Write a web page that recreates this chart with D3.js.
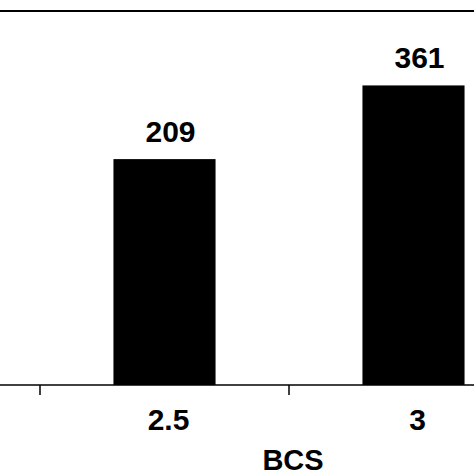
<!DOCTYPE html>
<html>
<head>
<meta charset="utf-8">
<script src="https://cdn.jsdelivr.net/npm/d3@7"></script>
<style>
  body { margin: 0; background: #fff; }
  text { font-family: "Liberation Sans", Arial, sans-serif; font-weight: bold; fill: #000; }
</style>
</head>
<body>
<div id="chart"></div>
<script>
// categories on the x axis (BCS), bar heights (% of axis) and the counts printed on top
var categories = ["2.5", "3"];
var barValues = [60.4, 80.1];
var counts = [209, 361];

var width = 474, height = 474;

var svg = d3.select("#chart")
  .append("svg")
  .attr("width", width)
  .attr("height", height);

var plotTop = 11, plotBottom = 385;

var x = d3.scaleBand()
    .domain(categories)
    .range([40, 538])
    .paddingInner(0)
    .paddingOuter(0);

var y = d3.scaleLinear()
    .domain([0, 100])
    .range([plotBottom, plotTop]);

var barW = x.bandwidth() * 0.41;

var data = categories.map(function(c, i) {
  return {cat: c, value: barValues[i], n: counts[i]};
});

// top frame line
svg.append("line")
    .attr("x1", 0).attr("x2", width)
    .attr("y1", plotTop).attr("y2", plotTop)
    .attr("stroke", "#000")
    .attr("stroke-width", 2.2);

svg.selectAll(".bar")
    .data(data)
  .enter().append("rect")
    .attr("class", "bar")
    .attr("x", function(d) { return x(d.cat) + (x.bandwidth() - barW) / 2; })
    .attr("width", barW)
    .attr("y", function(d) { return y(d.value); })
    .attr("height", function(d) { return y(0) - y(d.value); })
    .attr("fill", "#000");

svg.selectAll(".count")
    .data(data)
  .enter().append("text")
    .attr("class", "count")
    .attr("x", function(d) { return x(d.cat) + x.bandwidth() / 2 + 6; })
    .attr("y", function(d) { return y(d.value) - 17; })
    .attr("text-anchor", "middle")
    .style("font-size", "30px")
    .text(function(d) { return d.n; });

// x axis: line, ticks at band edges, labels at band centres
var axis = svg.append("g").attr("class", "axis");

axis.append("line")
    .attr("x1", 0).attr("x2", width)
    .attr("y1", plotBottom).attr("y2", plotBottom)
    .attr("stroke", "#000")
    .attr("stroke-width", 1.5);

axis.selectAll(".tick")
    .data(categories)
  .enter().append("line")
    .attr("class", "tick")
    .attr("x1", function(d) { return x(d); })
    .attr("x2", function(d) { return x(d); })
    .attr("y1", plotBottom)
    .attr("y2", plotBottom + 10)
    .attr("stroke", "#000")
    .attr("stroke-width", 1.5);

axis.selectAll(".ticklabel")
    .data(categories)
  .enter().append("text")
    .attr("class", "ticklabel")
    .attr("x", function(d) { return x(d) + x.bandwidth() / 2 + 4; })
    .attr("y", 430)
    .attr("text-anchor", "middle")
    .style("font-size", "30px")
    .text(function(d) { return d; });

svg.append("text")
    .attr("x", 293)
    .attr("y", 470)
    .attr("text-anchor", "middle")
    .style("font-size", "29px")
    .text("BCS");
</script>
</body>
</html>
